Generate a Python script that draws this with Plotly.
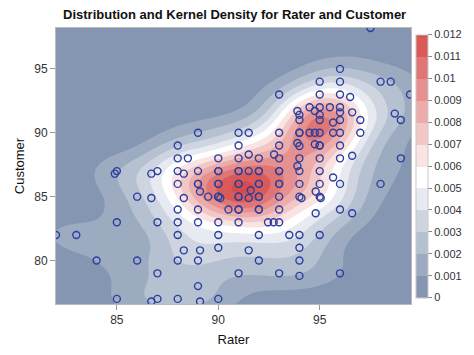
import numpy as np
import plotly.graph_objects as go

# Scatter data (Rater, Customer)
rater = [
    97.5,
    96,
    95, 96, 98, 98.5,
    93, 95, 96, 96.5, 99.45,
    94.5, 95, 95.5, 96,
    93.9, 94, 94.76, 95, 96, 96.6, 98.7,
    94, 95, 96, 97, 95.66, 99,
    89, 91, 91.5, 93, 94, 94.5, 94.76, 95, 95.66, 96, 97,
    88, 91, 93, 93.9, 94, 94.76, 95, 96,
    88, 88.5, 90, 91, 91.5, 92, 92.75, 93, 94, 95, 96, 96.6, 99,
    93.9,
    85, 84.9, 86.7, 87, 88, 88.3, 89, 90, 91, 91.5, 92, 93, 94, 95,
    95.66,
    88, 89, 90, 91, 92, 93, 94, 95, 96, 98,
    89.1, 91.6, 94.8,
    86, 86.7, 88.3, 89.5, 90, 90.1, 91, 91.5, 92, 93, 94, 94.1, 95, 95.05,
    88, 89, 90.5, 91, 92, 93, 96,
    94.8, 96.6,
    85, 87, 88, 89, 90, 91, 92.45, 92.73, 93,
    82, 83, 88, 90, 92, 93.5, 94, 95,
    88.3, 89.1, 90, 91.5, 94,
    84, 86, 88, 89, 92, 94,
    87, 91, 93, 94, 96,
    89,
    85, 86.7, 87, 88, 89.1, 90,
]
customer = [
    98.2,
    95,
    94, 94, 94, 94,
    93, 93, 93, 92.8, 93,
    92, 92, 92, 92,
    91.7, 91.4, 91.7, 91.4, 91.6, 91.6, 91.5,
    91, 91, 91, 91, 90.8, 91,
    90, 90, 90, 90, 90, 90, 90, 90, 90, 90, 90,
    89, 89, 89, 89.2, 88.96, 89.1, 89, 89,
    88, 88, 88, 88, 88.3, 88, 88.3, 88, 88, 88, 88, 88.2, 88,
    87.4,
    87, 86.8, 86.8, 87, 87, 86.8, 87, 87, 87, 87, 87, 87, 87, 87,
    86.5,
    86, 86, 86, 86, 86, 86, 86, 86, 86, 86,
    85.4, 85.5, 85.4,
    85, 84.9, 84.9, 85, 85, 84.9, 85, 84.9, 85, 85, 85, 84.9, 85, 84.9,
    84, 84, 84, 84, 84, 84, 84,
    83.7, 83.7,
    83, 83, 83, 83, 83, 83, 83, 83, 83,
    82, 82, 82, 82, 82, 82, 82, 82,
    80.8, 80.8, 81, 80.8, 81,
    80, 80, 80, 80, 80, 80,
    79, 79, 79, 78.8, 79,
    78,
    77, 76.8, 77, 77, 76.8, 77,
]

# Estimated overlapping (hidden) observations in the dense core
hidden_rater = [89, 90, 91, 92, 93, 90, 91, 92, 91, 92, 90, 91, 92, 93, 94, 95]
hidden_customer = [86, 86, 86, 86, 86, 85, 85, 85, 84, 84, 87, 87, 87, 87, 90, 89]

x_ticks = [85, 90, 95]
y_ticks = [80, 85, 90, 95]
levels_start, levels_end, levels_step = 0.0, 0.012, 0.001
cbar_labels = ["0", "0.001", "0.002", "0.003", "0.004", "0.005", "0.006",
               "0.007", "0.008", "0.009", "0.01", "0.011", "0.012"]

x_range = [82, 99.5]
y_range = [76.6, 98.2]

# Kernel density estimate computed from all observations (bivariate normal kernel)
xa = np.array(rater + hidden_rater, dtype=float)
ya = np.array(customer + hidden_customer, dtype=float)
n = len(xa)
hx = 0.9 * xa.std(ddof=1) * n ** (-1 / 6)
hy = 0.72 * ya.std(ddof=1) * n ** (-1 / 6)
gx = np.linspace(x_range[0], x_range[1], 180)
gy = np.linspace(y_range[0], y_range[1], 180)
GX, GY = np.meshgrid(gx, gy)
Z = np.zeros_like(GX)
for xi, yi in zip(xa, ya):
    Z += np.exp(-0.5 * (((GX - xi) / hx) ** 2 + ((GY - yi) / hy) ** 2))
Z /= n * 2 * np.pi * hx * hy

colorscale = [
    [0.0, "rgb(120,139,170)"],
    [0.458, "rgb(255,255,255)"],
    [1.0, "rgb(214,76,74)"],
]

fig = go.Figure()
fig.add_trace(go.Contour(
    x=gx, y=gy, z=Z,
    zmin=levels_start, zmax=levels_end,
    contours=dict(start=levels_start, end=levels_end, size=levels_step, coloring="fill", showlines=False),
    colorscale=colorscale,
    line=dict(width=0),
    colorbar=dict(
        x=1.014, xanchor="left", xpad=0, y=0.976, yanchor="top", ypad=0,
        len=263, lenmode="pixels", thickness=12,
        outlinewidth=1, outlinecolor="#c8c8c8",
        tickvals=[round(levels_start + i * levels_step, 3) for i in range(13)],
        ticktext=cbar_labels,
        ticks="outside", ticklen=4, tickcolor="#888",
        tickfont=dict(family="Liberation Sans, Arial", size=11, color="#333"),
    ),
    hoverinfo="skip",
))
fig.add_trace(go.Scatter(
    x=rater + hidden_rater, y=customer + hidden_customer, mode="markers",
    marker=dict(symbol="circle-open", size=7, color="#2b3f9e", line=dict(width=1.4, color="#2b3f9e")),
    showlegend=False,
))

fig.update_layout(
    width=474, height=355,
    margin=dict(l=56, r=63, t=28, b=51, autoexpand=False),
    paper_bgcolor="white", plot_bgcolor="white",
    font=dict(family="Liberation Sans, Arial", color="#333"),
    title=dict(text="<b>Distribution and Kernel Density for Rater and Customer</b>",
               x=0.495, xanchor="center", y=0.96, yanchor="middle", yref="container",
               font=dict(size=13, color="#111")),
    showlegend=False,
)
fig.update_xaxes(
    range=x_range, tickvals=x_ticks, ticks="outside", ticklen=5, tickcolor="#999",
    showgrid=False, zeroline=False, showline=True, linecolor="#bbb", mirror=True,
    automargin=False,
    tickfont=dict(size=12, color="#333"),
    title=dict(text="Rater", font=dict(size=13, color="#111"), standoff=8),
)
fig.update_yaxes(
    range=y_range, tickvals=y_ticks, ticks="outside", ticklen=5, tickcolor="#999",
    showgrid=False, zeroline=False, showline=True, linecolor="#bbb", mirror=True,
    automargin=False,
    tickfont=dict(size=12, color="#333"),
    title=dict(text="Customer", font=dict(size=13, color="#111"), standoff=6),
)

fig.write_html("out.html", config={"displayModeBar": False},
               post_script="document.body.style.margin='0';")
